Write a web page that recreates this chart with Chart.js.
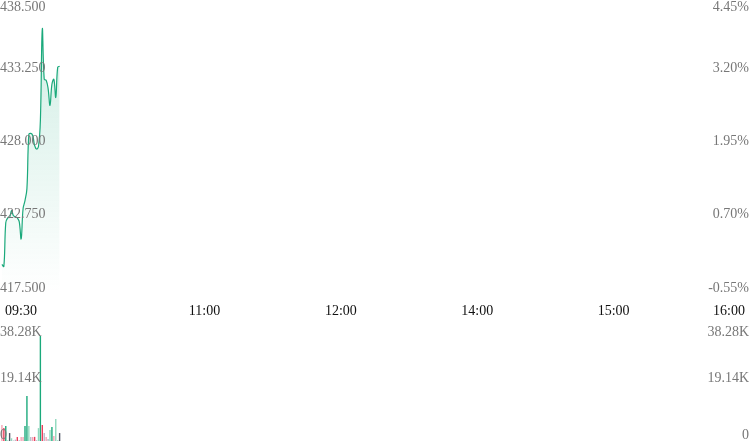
<!DOCTYPE html>
<html><head><meta charset="utf-8">
<script src="https://cdn.jsdelivr.net/npm/chart.js@4.4.1/dist/chart.umd.min.js"></script>
<style>
html,body{margin:0;padding:0;background:#fff;width:750px;height:442px;overflow:hidden}
#wrapA{position:absolute;left:0;top:0;width:750px;height:322px}
#wrapB{position:absolute;left:0;top:322px;width:750px;height:120px}
</style></head><body>
<div id="wrapA"><canvas id="price"></canvas></div>
<div id="wrapB"><canvas id="vol"></canvas></div>
<script>
// ---- data ----
const minutes = [1,2,3,4,5,6,7,8,9,10,11,12,13,14,15,16,17,18,19,20,21,22,23,24,25,26,27,28,29,30,31];
const prices = [419.55,419.41,422.53,422.89,422.93,423.40,423.04,422.97,422.89,422.61,421.38,423.54,424.12,424.98,428.86,428.94,428.79,428.07,427.82,428.00,429.87,436.42,432.82,432.75,432.17,430.95,432.46,432.82,431.52,433.68,433.75];
const volumes = [5.8,4.7,5.5,0.3,2.9,1.0,0.2,0.5,1.5,0.3,1.5,1.5,5.5,16.4,5.5,1.5,1.5,1.5,0.3,4.7,38.28,5.8,2.9,1.5,0.7,4.0,5.1,1.8,8.0,0.3,2.9]; // thousands
const volKinds = ['r','R','G','g','N','g','n','n','R','n','r','r','G','G','g','n','r','R','n','g','G','R','n','r','n','g','G','r','g','g','N'];
const priceTicks = [417.5, 422.75, 428, 433.25, 438.5];
const priceLabels = ['417.500','422.750','428.000','433.250','438.500'];
const pctLabels = ['-0.55%','0.70%','1.95%','3.20%','4.45%'];
const volTicks = [0, 19.14, 38.28];
const volLabels = ['0','19.14K','38.28K'];
const timeLabels = ['09:30','11:00','12:00','14:00','15:00','16:00'];
const timeSlots = [0,3,5,7,9,11];
const sessionMinutes = 390;

// ---- styles ----
const kindColor = {G:'#1aa97b', g:'#8ed9bd', R:'#ec3f5c', r:'#f5a3b4', N:'#505666', n:'#b9b9c9'};
const lineColor = '#1aa97b';
const FONT = '14px "Liberation Serif", "Times New Roman", serif';
const GREY = '#777777';

const priceLabelsPlugin = {
  id: 'priceLabels',
  afterDraw(chart) {
    const ctx = chart.ctx, y = chart.scales.y, t = chart.scales.t, ca = chart.chartArea;
    ctx.save();
    ctx.font = FONT;
    ctx.textBaseline = 'middle';
    priceTicks.forEach((v, i) => {
      let py = Math.max(y.getPixelForValue(v) - 5, 7);
      ctx.fillStyle = GREY;
      ctx.textAlign = 'left';
      ctx.fillText(priceLabels[i], 0, py);
      ctx.textAlign = 'right';
      ctx.fillText(pctLabels[i], 749, py);
    });
    ctx.fillStyle = '#111';
    timeLabels.forEach((lab, i) => {
      const px = t.getPixelForValue(timeSlots[i]);
      let x = px, align = 'center';
      if (i === 0) { x = px + 5; align = 'left'; }
      else if (i === timeLabels.length - 1) { x = px - 5; align = 'right'; }
      ctx.textAlign = align;
      ctx.fillText(lab, x, ca.bottom + 18);
    });
    ctx.restore();
  }
};

const volLabelsPlugin = {
  id: 'volLabels',
  afterDraw(chart) {
    const ctx = chart.ctx, y = chart.scales.y, ca = chart.chartArea;
    ctx.save();
    ctx.font = FONT;
    ctx.textBaseline = 'middle';
    ctx.fillStyle = GREY;
    volTicks.forEach((v, i) => {
      let py = y.getPixelForValue(v) - 10;
      if (i === 0) py = ca.bottom - 5.5;
      if (i === volTicks.length - 1) py = ca.top - 4;
      ctx.textAlign = 'left';
      ctx.fillText(volLabels[i], 0, py);
      ctx.textAlign = 'right';
      ctx.fillText(volLabels[i], 749, py);
    });
    ctx.restore();
  }
};

new Chart(document.getElementById('price'), {
  type: 'line',
  data: {
    datasets: [{
      data: minutes.map((m, i) => ({x: m, y: prices[i]})),
      borderColor: lineColor,
      borderWidth: 1.2,
      pointRadius: 0,
      tension: 0.4,
      fill: 'start',
      backgroundColor: (c) => {
        const ca = c.chart.chartArea;
        if (!ca) return 'rgba(26,169,123,0.1)';
        const g = c.chart.ctx.createLinearGradient(0, ca.top, 0, ca.bottom);
        g.addColorStop(0, 'rgba(26,169,123,0.22)');
        g.addColorStop(1, 'rgba(26,169,123,0)');
        return g;
      }
    }]
  },
  options: {
    responsive: true, maintainAspectRatio: false, animation: false,
    layout: {padding: {left: 0, right: 0, top: 0, bottom: 29}},
    plugins: {legend: {display: false}, tooltip: {enabled: false}},
    scales: {
      x: {type: 'linear', min: 0, max: sessionMinutes, display: false},
      t: {type: 'linear', axis: 'x', min: 0, max: 11, display: false},
      y: {type: 'linear', min: priceTicks[0], max: priceTicks[priceTicks.length - 1], display: false}
    }
  },
  plugins: [priceLabelsPlugin]
});

new Chart(document.getElementById('vol'), {
  type: 'bar',
  data: {
    datasets: [{
      data: minutes.map((m, i) => ({x: m, y: volumes[i]})),
      backgroundColor: volKinds.map(k => kindColor[k]),
      borderWidth: 0,
      barPercentage: 0.9,
      categoryPercentage: 0.8
    }]
  },
  options: {
    responsive: true, maintainAspectRatio: false, animation: false,
    layout: {padding: {left: 0, right: 0, top: 14, bottom: 1}},
    plugins: {legend: {display: false}, tooltip: {enabled: false}},
    scales: {
      x: {type: 'linear', min: 0, max: sessionMinutes, offset: false, grid: {offset: false}, display: false},
      y: {type: 'linear', min: volTicks[0], max: volTicks[volTicks.length - 1], display: false}
    }
  },
  plugins: [volLabelsPlugin]
});
</script>
</body></html>
